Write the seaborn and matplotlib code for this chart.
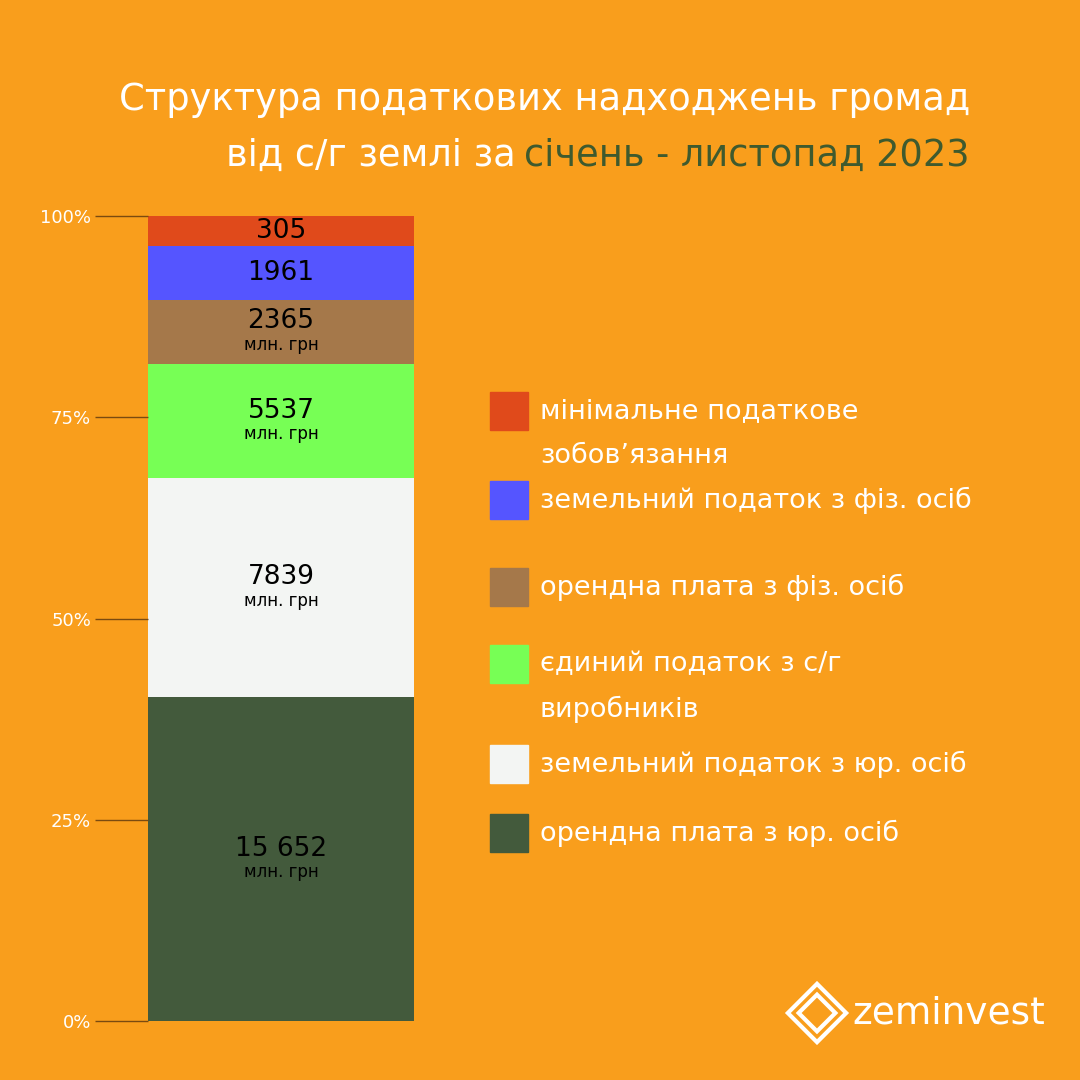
import matplotlib
matplotlib.use("Agg")
import matplotlib.pyplot as plt
import seaborn as sns
import pandas as pd
from matplotlib.patches import Rectangle, RegularPolygon

categories = ["орендна плата з юр. осіб", "земельний податок з юр. осіб",
              "єдиний податок з с/г\nвиробників", "орендна плата з фіз. осіб",
              "земельний податок з фіз. осіб", "мінімальне податкове\nзобов’язання"]
values = [15652, 7839, 5537, 2365, 1961, 305]
value_labels = ["15 652", "7839", "5537", "2365", "1961", "305"]
shares = [40.2, 27.2, 14.2, 8.0, 6.7, 3.7]  # drawn segment heights, %
units = [True, True, True, True, False, False]
colors = ["#435A3C", "#F3F5F3", "#77FF55", "#A5784A", "#5555FF", "#E04A1B"]
yticks = [0, 25, 50, 75, 100]
ytick_labels = ["0%", "25%", "50%", "75%", "100%"]

BG = "#F99E1C"
FONT = "DejaVu Sans"
fig = plt.figure(figsize=(10.8, 10.8), dpi=100, facecolor=BG)
ax = fig.add_axes([148/1080, 1-1021/1080, 266/1080, 805/1080])
ax.set_facecolor(BG)

tops = []
c = 0
for s in shares:
    c += s
    tops.append(c)
tops[-1] = 100
bottoms = [0] + tops[:-1]
for i in reversed(range(len(shares))):
    df = pd.DataFrame({"x": ["a"], "y": [tops[i]]})
    sns.barplot(data=df, x="x", y="y", color=colors[i], width=1.0, ax=ax,
                saturation=1, edgecolor="none")
ax.set_xlim(-0.5, 0.5)
ax.set_ylim(0, 100)
for sp in ax.spines.values():
    sp.set_visible(False)
ax.set_xticks([])
ax.set_xlabel(""); ax.set_ylabel("")
ax.set_yticks(yticks)
ax.set_yticklabels(ytick_labels, fontsize=13, color="white", family=FONT)
ax.tick_params(axis="y", length=38, width=1, color="#7a4a10", pad=3)

for i in range(len(shares)):
    mid = (bottoms[i] + tops[i]) / 2
    if units[i]:
        ax.text(0, mid + 1.3, value_labels[i], ha="center", va="center",
                fontsize=19, family=FONT, color="black")
        ax.text(0, mid - 1.6, "млн. грн", ha="center", va="center",
                fontsize=12, family=FONT, color="black")
    else:
        ax.text(0, mid, value_labels[i], ha="center", va="center",
                fontsize=19, family=FONT, color="black")

# title
TS = 26.5
fig.text(970/1080, 1-100/1080, "Структура податкових надходжень громад",
         ha="right", va="center", fontsize=TS, color="white", family=FONT)
t2 = fig.text(970/1080, 1-155/1080, "січень - листопад 2023",
              ha="right", va="center", fontsize=TS, color="#3F5A2E", family=FONT)
fig.canvas.draw()
bb = t2.get_window_extent()
fig.text((bb.x0 - 9)/1080, 1-155/1080, "від с/г землі за",
         ha="right", va="center", fontsize=TS, color="white", family=FONT)

# legend
leg_y = [833, 764, 664, 587, 500, 411]
for i in range(len(categories)):
    y = leg_y[i]
    fig.patches.append(Rectangle((490/1080, 1-(y+19)/1080), 38/1080, 38/1080,
                                 transform=fig.transFigure, color=colors[i]))
    lines = categories[i].split("\n")
    for j, ln in enumerate(lines):
        fig.text(540/1080, 1-(y + j*45)/1080, ln, ha="left", va="center",
                 fontsize=19.5, color="white", family=FONT)

# logo
fig.text(1045/1080, 1-1013/1080, "zeminvest", ha="right", va="center",
         fontsize=27, color="white", family=FONT)
for r in [0.027, 0.017]:
    fig.patches.append(RegularPolygon((817/1080, 1-1013/1080), 4, radius=r,
                       transform=fig.transFigure, fill=False, ec="white", lw=3))

fig.savefig("out.png", dpi=100, facecolor=BG)
